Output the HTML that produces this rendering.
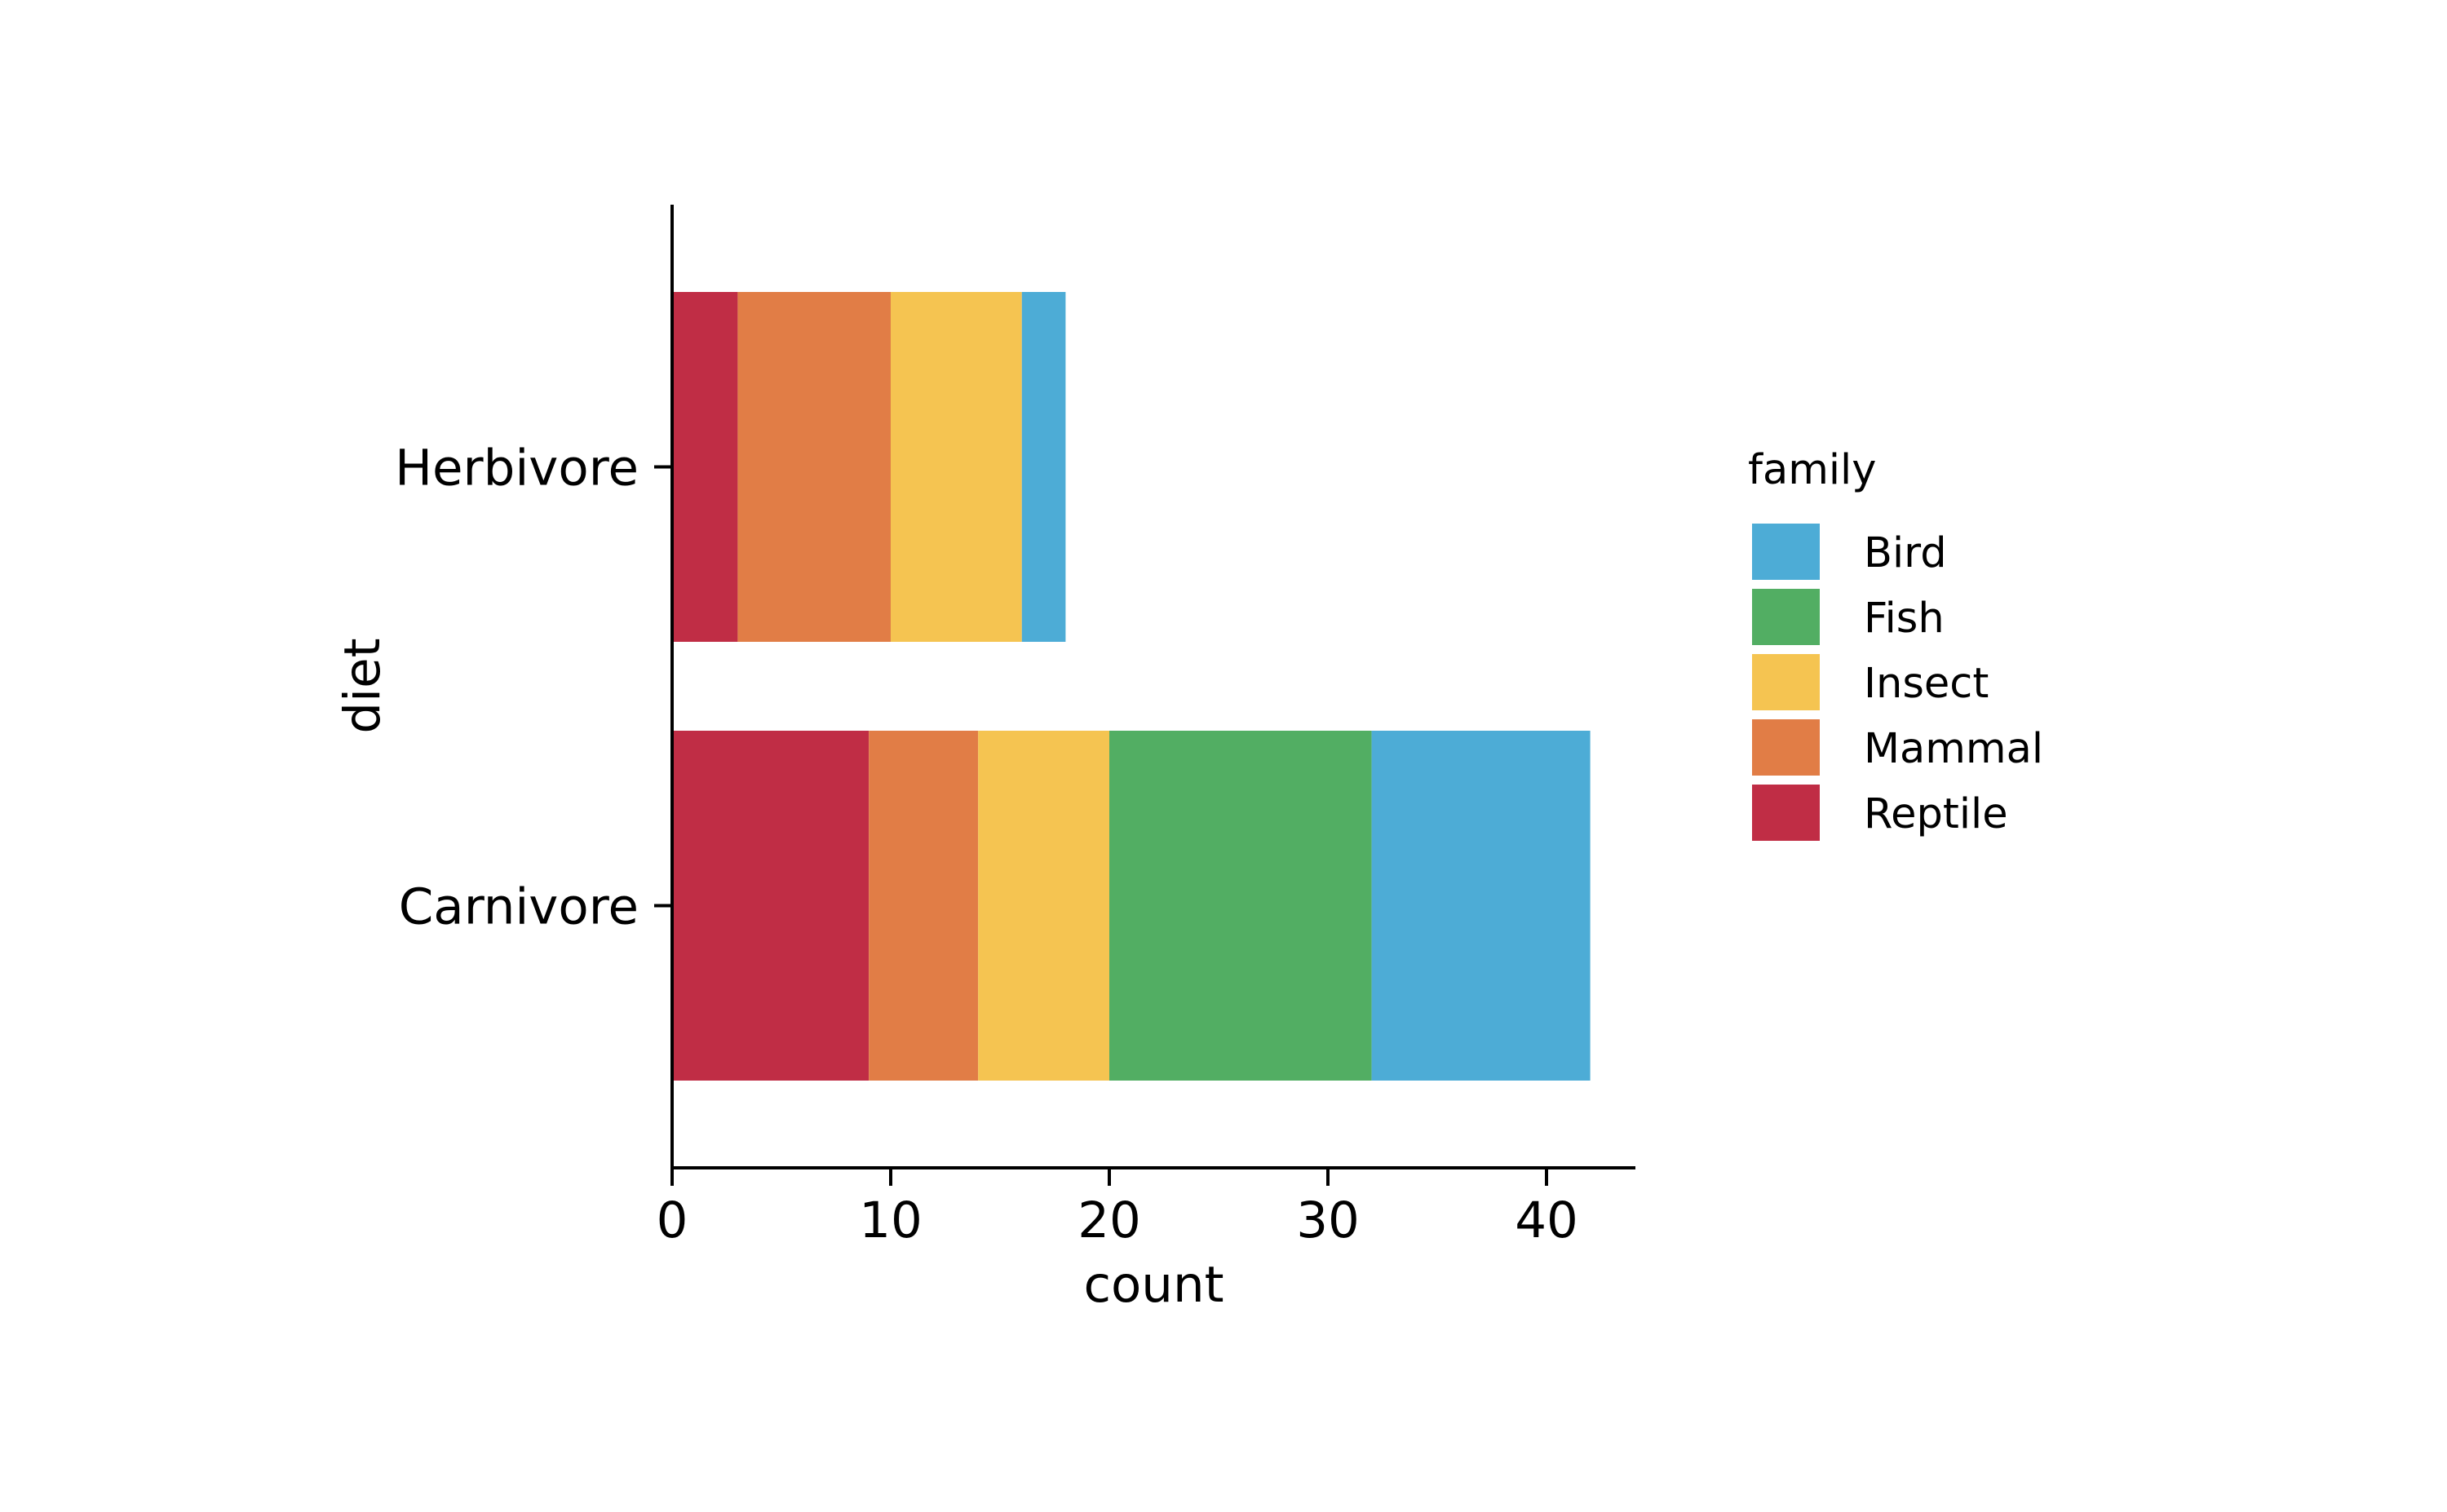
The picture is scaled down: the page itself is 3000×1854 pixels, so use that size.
<!DOCTYPE html>
<html><head><meta charset="utf-8"><style>
html,body{margin:0;padding:0;background:#fff;}
svg{display:block;font-family:"DejaVu Sans","Liberation Sans",sans-serif;}
</style></head><body>
<svg id="chart" width="3000" height="1854" viewBox="0 0 3000 1854">
<g id="bars"></g>
<g id="axes"></g>
<g id="legend"></g>
</svg>
<script>
const categories = ["Herbivore", "Carnivore"];
const families = ["Reptile", "Mammal", "Insect", "Fish", "Bird"];
const reptile = [3, 9];
const mammal = [7, 5];
const insect = [6, 6];
const fish = [0, 12];
const bird = [2, 10];
const xTicks = [0, 10, 20, 30, 40];
const legendOrder = ["Bird", "Fish", "Insect", "Mammal", "Reptile"];

const seriesValues = {Reptile: reptile, Mammal: mammal, Insect: insect, Fish: fish, Bird: bird};
const colors = {Reptile: "#C02D45", Mammal: "#E17D46", Insect: "#F5C451", Fish: "#52AE63", Bird: "#4DACD6"};
const NS = "http://www.w3.org/2000/svg";
const X0 = 824, PX_PER_UNIT = 26.8, AXIS_END = 2005;
const Y_TOP = 251, Y_BOT = 1432;
const bandCenters = [572.5, 1110.5];
const barH = 429;
function xScale(v){ return X0 + v * PX_PER_UNIT; }
function yScale(i){ return bandCenters[i]; }
function mk(tag, attrs, parent){
  const e = document.createElementNS(NS, tag);
  for (const k in attrs) e.setAttribute(k, attrs[k]);
  parent.appendChild(e); return e;
}
const gb = document.getElementById("bars");
categories.forEach((c, i) => {
  let acc = 0;
  families.forEach(f => {
    const v = seriesValues[f][i];
    if (v > 0) {
      const r = mk("rect", {x: xScale(acc), y: yScale(i) - barH/2, width: xScale(acc + v) - xScale(acc), height: barH, fill: colors[f]}, gb);
      
      
    }
    acc += v;
  });
});
const ga = document.getElementById("axes");
const yl = mk("line", {x1: X0, y1: Y_TOP, x2: X0, y2: Y_BOT, stroke: "#000", "stroke-width": 4}, ga);


const xl = mk("line", {x1: X0 - 2, y1: Y_BOT, x2: AXIS_END, y2: Y_BOT, stroke: "#000", "stroke-width": 4}, ga);


xTicks.forEach(t => {
  const x = xScale(t);
  const tk = mk("line", {x1: x, y1: Y_BOT, x2: x, y2: Y_BOT + 22, stroke: "#000", "stroke-width": 4}, ga);
  
  
  const tx = mk("text", {x: x, y: 1517, "font-size": 61, "text-anchor": "middle"}, ga);
  tx.textContent = String(t);
  
  
});
categories.forEach((c, i) => {
  const y = yScale(i);
  const tk = mk("line", {x1: X0 - 22, y1: y, x2: X0, y2: y, stroke: "#000", "stroke-width": 4}, ga);
  
  
  const tx = mk("text", {x: 783, y: y + 22, "font-size": 61, "text-anchor": "end"}, ga);
  tx.textContent = c;
  
  
});
const xt = mk("text", {x: (X0 + AXIS_END)/2, y: 1596, "font-size": 61, "text-anchor": "middle"}, ga);
xt.textContent = "count";


const ytt = mk("text", {x: 0, y: 0, "font-size": 61, "text-anchor": "middle", transform: "translate(465,841) rotate(-90)"}, ga);
ytt.textContent = "diet";



const gl = document.getElementById("legend");
const lt = mk("text", {x: 2143, y: 593, "font-size": 51}, gl);
lt.textContent = "family";


legendOrder.forEach((f, k) => {
  const y = 642 + k * 80;
  const sw = mk("rect", {x: 2148, y: y, width: 83, height: 69, fill: colors[f]}, gl);
  
  
  const tx = mk("text", {x: 2285, y: y + 53, "font-size": 51}, gl);
  tx.textContent = f;
  
  
});
</script>
</body></html>
